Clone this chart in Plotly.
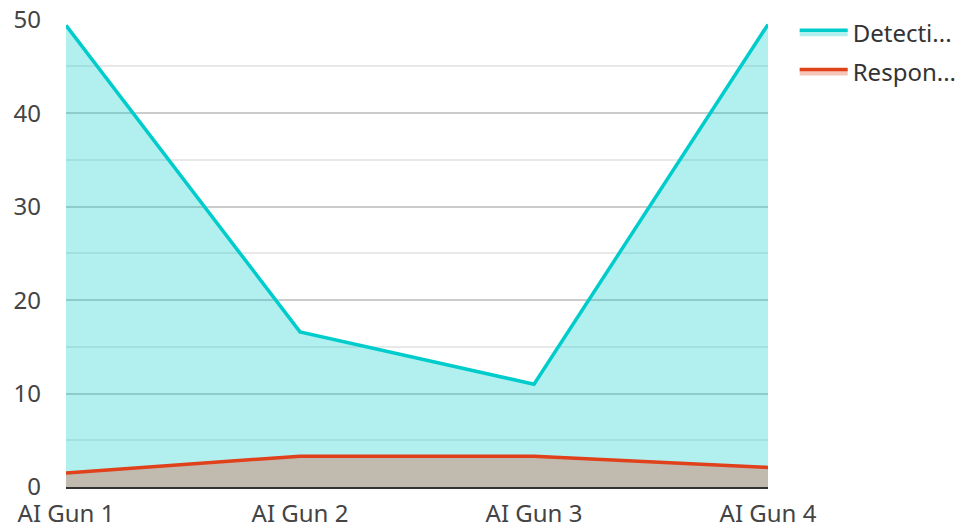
import plotly.graph_objects as go

categories = ["AI Gun 1", "AI Gun 2", "AI Gun 3", "AI Gun 4"]
detection = [49.4, 16.6, 11.0, 49.5]
response = [1.5, 3.3, 3.3, 2.1]
series_names = ["Detecti...", "Respon..."]
y_ticks = [0, 10, 20, 30, 40, 50]
y_minor = [5, 15, 25, 35, 45]

fig = go.Figure()
fig.add_trace(go.Scatter(
    x=categories, y=detection, name=series_names[0], mode="lines",
    legendgroup="a",
    line=dict(color="#00CCCC", width=3.5),
    fill="tozeroy", fillcolor="rgba(0,204,204,0.30)",
))
fig.add_trace(go.Scatter(
    x=categories, y=response, name=series_names[1], mode="lines",
    legendgroup="b",
    line=dict(color="#E0401A", width=3.5),
    fill="tozeroy", fillcolor="rgba(224,64,26,0.30)",
))

fig.update_layout(
    width=960, height=528,
    margin=dict(l=66, r=192, t=19, b=41, autoexpand=False),
    paper_bgcolor="white", plot_bgcolor="white",
    font=dict(family="Noto Sans", size=24, color="#444444"),
    showlegend=True,
    legend=dict(x=1.038, y=1.019, xanchor="left", yanchor="top",
                font=dict(size=24, color="#333333"), itemwidth=48,
                tracegroupgap=5, bgcolor="rgba(0,0,0,0)"),
    xaxis=dict(
        type="category", range=[0, 3], showgrid=False, automargin=False,
        showline=True, linecolor="#333333", linewidth=2,
        ticks="", tickfont=dict(size=24, color="#444444"),
        ticklabelstandoff=4,
    ),
    yaxis=dict(
        range=[0, 50.08], tickvals=y_ticks, automargin=False,
        ticklabeloverflow="allow",
        showgrid=True, gridcolor="#cccccc", gridwidth=1.5,
        minor=dict(tickvals=y_minor, showgrid=True,
                   gridcolor="#e8e8e8", gridwidth=1.5),
        zeroline=False, showline=False, ticks="",
        tickfont=dict(size=24, color="#444444"), ticklabelstandoff=24,
    ),
)

# remove the browser's default 8px body margin so the figure fills the window
fig.write_html("out.html", config={"displayModeBar": False},
               post_script="document.body.style.margin='0px';")
